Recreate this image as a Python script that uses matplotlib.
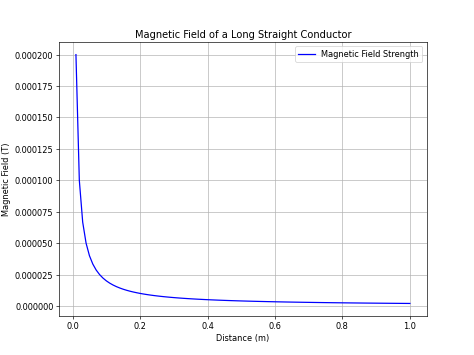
import matplotlib
matplotlib.use("Agg")
import matplotlib.pyplot as plt
import numpy as np

distance_cm = [1, 2, 3, 4, 5, 6, 7, 8, 9, 10,
               11, 12, 13, 14, 15, 16, 17, 18, 19, 20,
               21, 22, 23, 24, 25, 26, 27, 28, 29, 30,
               31, 32, 33, 34, 35, 36, 37, 38, 39, 40,
               41, 42, 43, 44, 45, 46, 47, 48, 49, 50,
               51, 52, 53, 54, 55, 56, 57, 58, 59, 60,
               61, 62, 63, 64, 65, 66, 67, 68, 69, 70,
               71, 72, 73, 74, 75, 76, 77, 78, 79, 80,
               81, 82, 83, 84, 85, 86, 87, 88, 89, 90,
               91, 92, 93, 94, 95, 96, 97, 98, 99, 100]

field_uT = [200.0, 100.0, 66.67, 50.0, 40.0, 33.33, 28.57, 25.0, 22.22, 20.0,
            18.18, 16.67, 15.38, 14.29, 13.33, 12.5, 11.76, 11.11, 10.53, 10.0,
            9.524, 9.091, 8.696, 8.333, 8.0, 7.692, 7.407, 7.143, 6.897, 6.667,
            6.452, 6.25, 6.061, 5.882, 5.714, 5.556, 5.405, 5.263, 5.128, 5.0,
            4.878, 4.762, 4.651, 4.545, 4.444, 4.348, 4.255, 4.167, 4.082, 4.0,
            3.922, 3.846, 3.774, 3.704, 3.636, 3.571, 3.509, 3.448, 3.390, 3.333,
            3.279, 3.226, 3.175, 3.125, 3.077, 3.030, 2.985, 2.941, 2.899, 2.857,
            2.817, 2.778, 2.740, 2.703, 2.667, 2.632, 2.597, 2.564, 2.532, 2.5,
            2.469, 2.439, 2.410, 2.381, 2.353, 2.326, 2.299, 2.273, 2.247, 2.222,
            2.198, 2.174, 2.151, 2.128, 2.105, 2.083, 2.062, 2.041, 2.020, 2.0]

distance_m = np.array(distance_cm) / 100.0
field_T = np.array(field_uT) * 1e-6

DPI = 474 / 8.0
fig, ax = plt.subplots(figsize=(8, 6), dpi=DPI)
ax.plot(distance_m, field_T, color="b", label="Magnetic Field Strength")
ax.set_title("Magnetic Field of a Long Straight Conductor")
ax.set_xlabel("Distance (m)")
ax.set_ylabel("Magnetic Field (T)")
ax.grid(True)
ax.legend()
fig.savefig("out.png", dpi=DPI)
